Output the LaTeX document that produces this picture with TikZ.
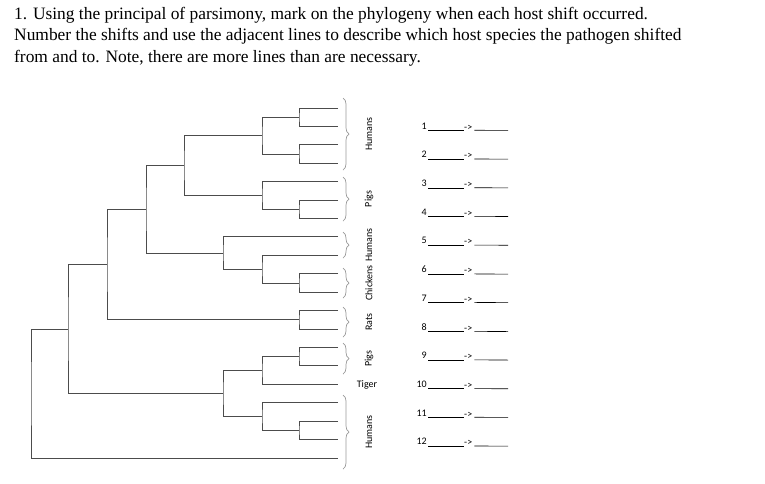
\documentclass[tikz,border=0pt]{standalone}
\usepackage{fontspec}
\setmainfont{Liberation Serif}
\newfontfamily\labelfont{Carlito}
\usetikzlibrary{calc,positioning,decorations.pathreplacing}

% one internal node of the tree: name, x, first child, second child
\newcommand{\clade}[4]{%
  \path ($(#3)!.5!(#4)$) coordinate (tmp);
  \coordinate (#1) at (#2,0 |- tmp);
  \draw[branch] (#3) -| (#1) |- (#4);}

\begin{document}
\begin{tikzpicture}[x=1pt,y=-1pt,
   branch/.style={draw=black!70,line width=0.9pt},
   hostbrace/.style={draw=black!40,line width=0.7pt,decorate,decoration={brace,amplitude=6pt}},
   host/.style={font=\labelfont\fontsize{10}{11}\selectfont,rotate=90},
   num/.style={font=\labelfont\fontsize{10}{11}\selectfont,anchor=east,inner sep=1pt},
   blank/.style={draw=black,line width=0.6pt}]
  \useasboundingbox (0,0) rectangle (765,483);
  \node[anchor=north west,align=left,inner sep=0pt,font=\fontsize{17.4}{21.5}\selectfont] (question) at (14,7)
    {1. Using the principal of parsimony, mark on the phylogeny when each host shift occurred.\\
     Number the shifts and use the adjacent lines to describe which host species the pathogen shifted\\
     from and to. Note, there are more lines than are necessary.};
  % leaves
  \foreach \i in {1,...,20}
    \coordinate (L\i) at (338,{108+(\i-1)*18.42});
  \clade{a1}{299}{L1}{L2}
  \clade{a2}{299}{L3}{L4}
  \clade{b1}{262}{a1}{a2}
  \clade{a3}{299}{L6}{L7}
  \clade{b2}{262}{L5}{a3}
  \clade{c1}{184}{b1}{b2}
  \clade{a4}{299}{L10}{L11}
  \clade{b3}{262}{L9}{a4}
  \clade{d1}{223}{L8}{b3}
  \clade{e1}{146}{c1}{d1}
  \clade{a5}{299}{L12}{L13}
  \clade{f1}{107}{e1}{a5}
  \clade{a6}{299}{L14}{L15}
  \clade{b4}{262}{a6}{L16}
  \clade{a7}{299}{L18}{L19}
  \clade{b5}{262}{L17}{a7}
  \clade{d2}{223}{b4}{b5}
  \clade{g1}{68}{f1}{d2}
  \clade{root}{31}{g1}{L20}
  % hosts
  \foreach \top/\bot/\name [count=\k] in {98/170/Humans,177/221/Pigs,232/258/Humans,
      268/298/Chickens,307/337/Rats,343/374/Pigs,395/469/Humans} {
    \draw[hostbrace] (343,\top) -- (343,\bot);
    \node[host] (host\k) at (369,{(\top+\bot)/2}) {\name};
  }
  \node[font=\labelfont\fontsize{10}{11}\selectfont] (tiger) at (367,385) {Tiger};
  % answer lines
  \foreach \i in {1,...,12} {
    \node[num] (n\i) at (428,{126+(\i-1)*28.7}) {\i};
    \coordinate (m\i) at ([xshift=36pt]n\i.south east);
    \draw[blank] (n\i.south east) -- (m\i);
    \node[num,anchor=west,inner sep=0pt] (arr\i) at ([yshift=3pt]m\i) {->};
    \draw[blank] ([xshift=2pt]arr\i.south east) -- (508,0 |- m\i);
  }
\end{tikzpicture}
\end{document}
